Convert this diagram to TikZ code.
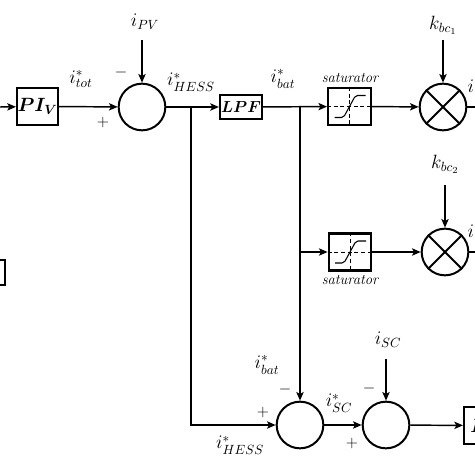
\documentclass[tikz,border=0pt]{standalone}
\usepackage{amsmath,amssymb,bm}
\usetikzlibrary{arrows.meta}
\tikzstyle{block}=[rectangle, draw, line width=1.6pt, inner sep=0pt, minimum width=30.75pt, minimum height=27.75pt, font=\Large]
\tikzstyle{satbox}=[rectangle, draw, line width=1.6pt, inner sep=0pt, minimum width=32pt, minimum height=27.75pt]
\tikzstyle{sumnode}=[circle, draw, line width=1.5pt, inner sep=0pt, minimum size=35pt]
\tikzstyle{lbl}=[inner sep=0pt, font=\Large]
\tikzstyle{sign}=[inner sep=0pt, font=\large]
\tikzstyle{satlbl}=[inner sep=0pt, font=\fontsize{11}{13}\selectfont\itshape]
\newcommand{\block}{\node[block]}
\newcommand{\sumnode}{\node[sumnode]}
\newcommand{\lbl}{\node[lbl]}
\newcommand{\satmark}[1]{
  \draw[densely dashed, line width=0.6pt] (#1.west) -- (#1.east) (#1.north) -- (#1.south);
  \draw[shift={(#1)}, line width=0.8pt, rounded corners=1.5pt] (-15,11) -- (-6,11) -- (6,-11) -- (16,-11);
}
\newcommand{\crossmark}[1]{
  \draw[line width=1.5pt] (#1.north west) -- (#1.south east) (#1.north east) -- (#1.south west);
}

\begin{document}
\begin{tikzpicture}[x=0.75pt, y=-0.75pt, line width=1.1pt, >={Stealth[length=6.5pt,width=5.5pt,inset=1.5pt]}]
            \useasboundingbox (0,0) rectangle (474,474);
            % top row
            \coordinate (in) at (0,107);
            \block (piv) at (37.5,106.5) {$\boldsymbol{PI_{V}}$};
            \sumnode (s1) at (142,107) {};
            \coordinate (pv) at (142,40);
            \coordinate (b1) at (191,107);
            \block (lpf) at (241,107) [minimum height=18pt, minimum width=31.5pt, font=\large] {$\boldsymbol{LPF}$};
            \coordinate (b2) at (300,107);
            \node[satbox] (sat1) at (349.5,106.5) {};
            \sumnode (m1) at (443,107) {};
            \coordinate (k1) at (443,40);
            \coordinate (o1) at (480,107);
            \lbl at (145,22) {$i_{PV}$};
            \lbl at (81,79) {$i^{*}_{tot}$};
            \lbl at (191,82) {$i^{*}_{HESS}$};
            \lbl at (283,79) {$i^{*}_{bat}$};
            \node[satlbl] at (350,78) {saturator};
            \lbl at (443,25) {$k_{bc_1}$};
            \lbl[anchor=west] at (467,86) {$i$};
            \node[sign] at (121,73) {$-$};
            \node[sign] at (103,123) {$+$};
            % middle row
            \coordinate (b3) at (300,252);
            \node[satbox] (sat2) at (350,252) {};
            \sumnode (m2) at (445,252) {};
            \coordinate (k2) at (445,185);
            \coordinate (o2) at (480,252);
            \node[satlbl] at (350,280) {saturator};
            \lbl at (445,164) {$k_{bc_2}$};
            \lbl[anchor=west] at (467,231) {$i$};
            \draw[line width=1.6pt] (-20,260) rectangle (5,285);
            % bottom row
            \coordinate (c1) at (191,425);
            \sumnode (s3) at (300,425) {};
            \sumnode (s4) at (386,425) {};
            \coordinate (sc) at (386,359);
            \block (pisc) at (463,425.5) [anchor=west, inner xsep=3pt] {$\boldsymbol{PI}$};
            \lbl at (267,365) {$i^{*}_{bat}$};
            \lbl at (240,445) {$i^{*}_{HESS}$};
            \lbl at (339,403) {$i^{*}_{SC}$};
            \lbl at (388,340) {$i_{SC}$};
            \node[sign] at (285,389) {$-$};
            \node[sign] at (263,412) {$+$};
            \node[sign] at (352,443) {$+$};
            \node[sign] at (369,388) {$-$};
            \satmark{sat1}
            \satmark{sat2}
            \crossmark{m1}
            \crossmark{m2}
            \path[->]
                (in) edge (piv)
                (piv) edge (s1)
                (pv) edge (s1)
                (s1) edge (lpf)
                (lpf) edge (sat1)
                (sat1) edge (m1)
                (k1) edge (m1)
                (b2) edge (s3)
                (b3) edge (sat2)
                (sat2) edge (m2)
                (k2) edge (m2)
                (s3) edge (s4)
                (sc) edge (s4)
                (s4) edge (pisc)
            ;
            \draw (m1) -- (o1);
            \draw (m2) -- (o2);
            \draw[->] (b1) -- (c1) -- (s3);
        \end{tikzpicture}
\end{document}
